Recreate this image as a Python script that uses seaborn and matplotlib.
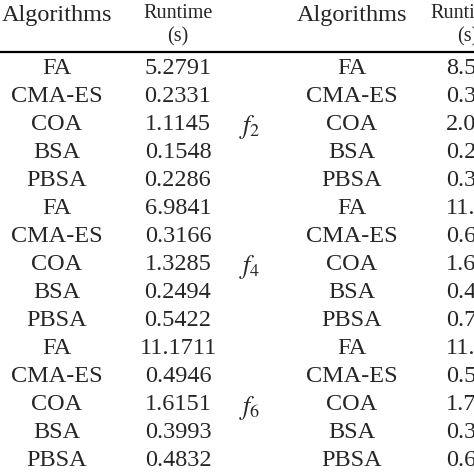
import matplotlib
matplotlib.use("Agg")
import matplotlib.pyplot as plt
import seaborn as sns

sns.set_style("white")
plt.rcParams['font.family'] = ['Liberation Serif', 'DejaVu Serif']
plt.rcParams['mathtext.fontset'] = 'stix'

# table data (right runtime column is cut off at the image edge)
algorithms = ["FA", "CMA-ES", "COA", "BSA", "PBSA"] * 3
runtime_left = ["5.2791", "0.2331", "1.1145", "0.1548", "0.2286",
                "6.9841", "0.3166", "1.3285", "0.2494", "0.5422",
                "11.1711", "0.4946", "1.6151", "0.3993", "0.4832"]
functions_right = ["$f_2$", "$f_4$", "$f_6$"]
runtime_right = ["8.5012", "0.3371", "2.0436", "0.2215", "0.3364",
                 "11.4283", "0.6127", "1.6390", "0.4102", "0.7258",
                 "11.3054", "0.5561", "1.7482", "0.3671", "0.6105"]

fig = plt.figure(figsize=(4.74, 4.74), dpi=100)
ax = fig.add_axes([0, 0, 1, 1])
ax.set_xlim(0, 474)
ax.set_ylim(474, 0)
ax.axis("off")

fs = 17.5
hs = 14.5
# header
ax.text(57, 15, "Algorithms", ha="center", va="center", fontsize=fs)
ax.text(178, 13, "Runtime", ha="center", va="center", fontsize=hs)
ax.text(178, 37, "(s)", ha="center", va="center", fontsize=hs)
ax.text(352, 15, "Algorithms", ha="center", va="center", fontsize=fs)
ax.text(430, 13, "Runtime", ha="left", va="center", fontsize=hs)
ax.text(457, 37, "(s)", ha="left", va="center", fontsize=hs)
ax.plot([0, 474], [52, 52], color="black", lw=1.6, clip_on=False)

row_y0, row_h = 68, 28.07
for i, (alg, rl, rr) in enumerate(zip(algorithms, runtime_left, runtime_right)):
    y = row_y0 + i * row_h
    ax.text(57, y, alg, ha="center", va="center", fontsize=fs)
    ax.text(178, y, rl, ha="center", va="center", fontsize=fs)
    ax.text(352, y, alg, ha="center", va="center", fontsize=fs)
    ax.text(446, y, rr, ha="left", va="center", fontsize=fs)

for k, f in enumerate(functions_right):
    y = row_y0 + (5 * k + 2) * row_h + 3
    ax.text(250, y, f, ha="center", va="center", fontsize=fs + 1)

fig.savefig("out.png", dpi=100)
